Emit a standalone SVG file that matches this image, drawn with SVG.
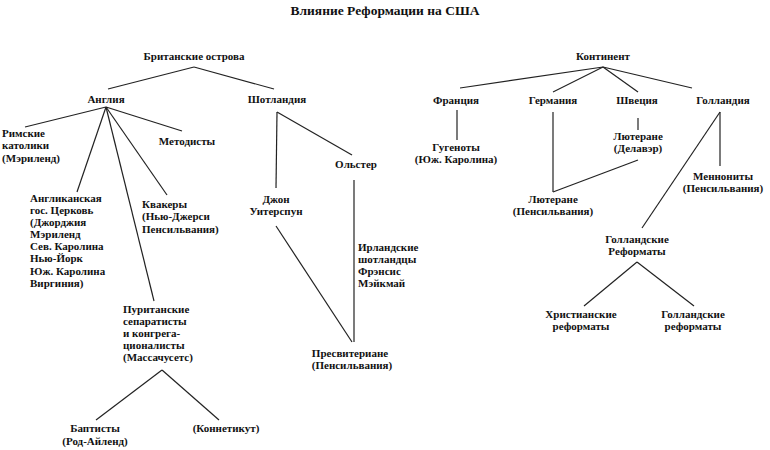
<svg xmlns="http://www.w3.org/2000/svg" width="770" height="450" viewBox="0 0 770 450">
<style>
text{font-family:"Liberation Serif","DejaVu Serif",serif;font-weight:bold;font-size:11px;fill:#111}
.c{text-anchor:middle}
.t{font-size:13.5px}
#conn line{stroke:#222;stroke-width:1.2}
</style>
<rect width="770" height="450" fill="#fff"/>
<text class="c t" x="385" y="15">Влияние Реформации на США</text>
<g id="conn">
<line x1="194" y1="67" x2="108" y2="89"/><line x1="194" y1="67" x2="274" y2="89"/>
<line x1="106" y1="107" x2="25" y2="127"/><line x1="106" y1="107" x2="182" y2="131"/>
<line x1="106" y1="107" x2="77" y2="192"/><line x1="106" y1="107" x2="167" y2="195"/>
<line x1="106" y1="107" x2="154" y2="301"/>
<line x1="162" y1="370" x2="96" y2="420"/><line x1="162" y1="370" x2="219" y2="420"/>
<line x1="277" y1="112" x2="276" y2="188"/><line x1="277" y1="112" x2="352" y2="155"/>
<line x1="276" y1="226" x2="352" y2="342"/><line x1="354" y1="180" x2="354" y2="342"/>
<line x1="603" y1="67" x2="460" y2="88"/><line x1="603" y1="67" x2="553" y2="92"/>
<line x1="603" y1="67" x2="638" y2="92"/><line x1="603" y1="67" x2="692" y2="88"/>
<line x1="457" y1="110" x2="457" y2="140"/>
<line x1="553" y1="112" x2="553" y2="192"/><line x1="553" y1="192" x2="638" y2="160"/>
<line x1="638" y1="118" x2="638" y2="130"/>
<line x1="720" y1="112" x2="720" y2="166"/><line x1="720" y1="112" x2="642" y2="228"/>
<line x1="637" y1="262" x2="584" y2="306"/><line x1="637" y1="262" x2="694" y2="306"/>
</g>
<g id="brit"><text class="c" x="194" y="60">Британские острова</text></g>
<g id="england"><text class="c" x="106" y="103">Англия</text></g>
<g id="scotland"><text class="c" x="277" y="103">Шотландия</text></g>
<g id="roman"><text x="2" y="137">Римские</text><text x="2" y="149">католики</text><text x="2" y="162">(Мэриленд)</text></g>
<g id="methodists"><text class="c" x="187" y="145">Методисты</text></g>
<g id="anglican"><text x="30" y="202">Англиканская</text><text x="30" y="214">гос. Церковь</text><text x="30" y="226">(Джорджия</text><text x="30" y="238">Мэриленд</text><text x="30" y="250">Сев. Каролина</text><text x="30" y="262">Нью-Йорк</text><text x="30" y="275">Юж. Каролина</text><text x="30" y="287">Виргиния)</text></g>
<g id="quakers"><text x="142" y="208">Квакеры</text><text x="142" y="220">(Нью-Джерси</text><text x="142" y="233">Пенсильвания)</text></g>
<g id="puritans"><text x="123" y="313">Пуританские</text><text x="123" y="325">сепаратисты</text><text x="123" y="337">и конгрега-</text><text x="123" y="349">ционалисты</text><text x="123" y="361">(Массачусетс)</text></g>
<g id="baptists"><text class="c" x="95" y="432">Баптисты</text><text class="c" x="95" y="445">(Род-Айленд)</text></g>
<g id="conn2"><text class="c" x="226" y="432">(Коннетикут)</text></g>
<g id="ulster"><text class="c" x="356" y="168">Ольстер</text></g>
<g id="witherspoon"><text class="c" x="276" y="203">Джон</text><text class="c" x="276" y="215">Уитерспун</text></g>
<g id="irish"><text x="358" y="251">Ирландские</text><text x="358" y="263">шотландцы</text><text x="358" y="275">Фрэнсис</text><text x="358" y="287">Мэйкмай</text></g>
<g id="presb"><text class="c" x="350" y="357">Пресвитериане</text><text class="c" x="352" y="369">(Пенсильвания)</text></g>
<g id="continent"><text class="c" x="603" y="60">Континент</text></g>
<g id="france"><text class="c" x="456" y="104">Франция</text></g>
<g id="germany"><text class="c" x="553" y="104">Германия</text></g>
<g id="sweden"><text class="c" x="637" y="104">Швеция</text></g>
<g id="holland"><text class="c" x="723" y="104">Голландия</text></g>
<g id="huguenots"><text class="c" x="456" y="151">Гугеноты</text><text class="c" x="456" y="163">(Юж. Каролина)</text></g>
<g id="luthdel"><text class="c" x="638" y="140">Лютеране</text><text class="c" x="638" y="152">(Делавэр)</text></g>
<g id="luthpa"><text class="c" x="553" y="203">Лютеране</text><text class="c" x="553" y="215">(Пенсильвания)</text></g>
<g id="mennonites"><text class="c" x="723" y="180">Меннониты</text><text class="c" x="723" y="192">(Пенсильвания)</text></g>
<g id="dutchref"><text class="c" x="637" y="243">Голландские</text><text class="c" x="637" y="255">Реформаты</text></g>
<g id="christref"><text class="c" x="581" y="318">Христианские</text><text class="c" x="581" y="330">реформаты</text></g>
<g id="dutchref2"><text class="c" x="693" y="318">Голландские</text><text class="c" x="693" y="330">реформаты</text></g>
</svg>
